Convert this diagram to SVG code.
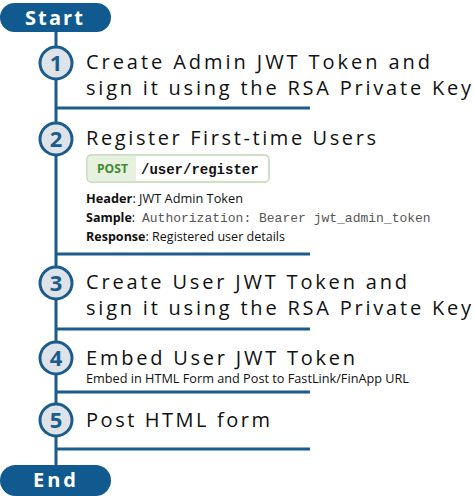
<svg xmlns="http://www.w3.org/2000/svg" width="474" height="496" viewBox="0 0 474 496">
<style>
.pill{fill:#105a8f}
.pilltxt{font-family:"Open Sans","Liberation Sans",sans-serif;font-weight:bold;font-size:20px;fill:#fff}
.line{stroke:#1b5c8c;stroke-width:3;fill:none}
.circ{fill:#dee3e9;stroke:#1b5c8c;stroke-width:3}
.num{font-family:"Open Sans","Liberation Sans",sans-serif;font-weight:bold;font-size:22px;fill:#1b5c8c;text-anchor:middle}
.title{font-family:"Open Sans","Liberation Sans",sans-serif;font-size:20px;fill:#111}
.small{font-family:"Open Sans","Liberation Sans",sans-serif;font-size:12.5px;fill:#111}
.mono{font-family:"Liberation Mono",monospace;font-size:13px;fill:#555}
</style>
<g id="connectors">
<line class="line" x1="56" y1="30" x2="56" y2="467"/>
<line class="line" x1="56" y1="108" x2="310" y2="108"/>
<line class="line" x1="56" y1="254" x2="310" y2="254"/>
<line class="line" x1="56" y1="329" x2="310" y2="329"/>
<line class="line" x1="56" y1="392" x2="310" y2="392"/>
<line class="line" x1="56" y1="449" x2="310" y2="449"/>
</g>
<g id="start">
<rect class="pill" x="0" y="3" width="111" height="29" rx="14.5"/>
<text class="pilltxt" x="25" y="25" textLength="58" lengthAdjust="spacing">Start</text>
</g>
<g id="step1">
<circle class="circ" cx="56" cy="63" r="16"/>
<text class="num" x="56" y="71">1</text>
<text class="title" x="86" y="69" textLength="344" lengthAdjust="spacing">Create Admin JWT Token and</text>
<text class="title" x="86" y="95" textLength="385" lengthAdjust="spacing">sign it using the RSA Private Key</text>
</g>
<g id="step2">
<circle class="circ" cx="56" cy="139" r="16"/>
<text class="num" x="56" y="147">2</text>
<text class="title" x="86" y="145" textLength="290" lengthAdjust="spacing">Register First-time Users</text>
<rect x="87" y="155" width="182" height="27" rx="4" fill="#fff" stroke="#bcd8b0" stroke-width="1.5"/>
<path d="M91 155.75 H136 V181.25 H91 A3.25 3.25 0 0 1 87.75 178 V159 A3.25 3.25 0 0 1 91 155.75 Z" fill="#e6f1df"/>
<text x="97" y="173" font-family="'Open Sans','Liberation Sans',sans-serif" font-weight="bold" font-size="13" fill="#3e8c2e" textLength="31" lengthAdjust="spacingAndGlyphs">POST</text>
<text x="141" y="174" font-family="'Liberation Mono',monospace" font-weight="bold" font-size="14" fill="#111">/user/register</text>
<text class="small" x="86" y="203" textLength="157" lengthAdjust="spacingAndGlyphs"><tspan font-weight="bold">Header</tspan>: JWT Admin Token</text>
<text class="small" x="86" y="222"><tspan font-weight="bold">Sample</tspan>:</text>
<text class="mono" x="142" y="222">Authorization: Bearer jwt_admin_token</text>
<text class="small" x="86" y="241" textLength="199" lengthAdjust="spacingAndGlyphs"><tspan font-weight="bold">Response</tspan>: Registered user details</text>
</g>
<g id="step3">
<circle class="circ" cx="56" cy="283" r="16"/>
<text class="num" x="56" y="291">3</text>
<text class="title" x="86" y="289" textLength="321" lengthAdjust="spacing">Create User JWT Token and</text>
<text class="title" x="86" y="315" textLength="385" lengthAdjust="spacing">sign it using the RSA Private Key</text>
</g>
<g id="step4">
<circle class="circ" cx="56" cy="358" r="16"/>
<text class="num" x="56" y="366">4</text>
<text class="title" x="86" y="365" textLength="269" lengthAdjust="spacing">Embed User JWT Token</text>
<text class="small" x="86" y="383" textLength="323" lengthAdjust="spacingAndGlyphs">Embed in HTML Form and Post to FastLink/FinApp URL</text>
</g>
<g id="step5">
<circle class="circ" cx="56" cy="420" r="16"/>
<text class="num" x="56" y="428">5</text>
<text class="title" x="86" y="427" textLength="184" lengthAdjust="spacing">Post HTML form</text>
</g>
<g id="end">
<rect class="pill" x="0" y="465" width="111" height="31" rx="15.5"/>
<text class="pilltxt" x="33" y="487" textLength="43" lengthAdjust="spacing">End</text>
</g>
</svg>
